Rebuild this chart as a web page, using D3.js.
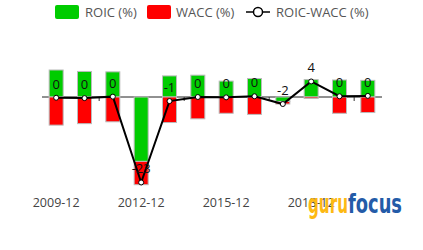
<!DOCTYPE html>
<html>
<head>
<meta charset="utf-8">
<script src="https://cdn.jsdelivr.net/npm/d3@7"></script>
<style>
  body { margin: 0; background: #fff; }
  svg { display: block; font-family: "Open Sans", sans-serif; }
</style>
</head>
<body>
<svg width="423" height="250"></svg>
<script>
"use strict";
var years = ['2009-12','2010-12','2011-12','2012-12','2013-12','2014-12','2015-12','2016-12','2017-12','2018-12','2019-12','2020-12'];
var roic = [7.3, 6.9, 6.8, -17.4, 5.7, 5.9, 4.3, 5.0, -1.2, 4.7, 4.6, 4.5];
var wacc = [7.6, 7.2, 6.7, 6.3, 6.9, 5.9, 4.4, 4.7, 0.7, 0.4, 4.4, 4.2];
var spread = [-0.2, -0.3, 0.1, -23.1, -1.1, 0.0, -0.1, 0.2, -1.9, 4.2, 0.2, 0.3];
var tickLabels = ['2009-12','2012-12','2015-12','2018-12'];

var svg = d3.select("svg");

var x = d3.scaleBand().domain(years).range([42, 382]);
var y = d3.scaleLinear().domain([-25, 10]).range([97 + 25 * 3.7, 97 - 10 * 3.7]);
var bw = 14;

// zero axis
svg.append('line')
  .attr('x1', x.range()[0]).attr('x2', x.range()[1])
  .attr('y1', y(0)).attr('y2', y(0))
  .attr('stroke', '#222').attr('stroke-width', 1);

// ticks between categories, every third
svg.append('g').selectAll('line')
  .data([2, 5, 8, 11])
  .enter().append('line')
  .attr('x1', d => x(years[d]) + 0.5).attr('x2', d => x(years[d]) + 0.5)
  .attr('y1', y(0)).attr('y2', y(0) + 4)
  .attr('stroke', '#333');

// ROIC bars
svg.append('g').selectAll('rect')
  .data(years)
  .enter().append('rect')
  .attr('x', d => x(d) + x.bandwidth() / 2 - bw / 2)
  .attr('width', bw)
  .attr('y', (d, i) => Math.min(y(0), y(roic[i])))
  .attr('height', (d, i) => Math.abs(y(roic[i]) - y(0)))
  .attr('fill', '#00cc00')
  .attr('stroke', '#bbb').attr('stroke-width', 1);

// WACC bars, stacked below
svg.append('g').selectAll('rect')
  .data(years)
  .enter().append('rect')
  .attr('x', d => x(d) + x.bandwidth() / 2 - bw / 2)
  .attr('width', bw)
  .attr('y', (d, i) => y(Math.min(0, roic[i])))
  .attr('height', (d, i) => y(-wacc[i]) - y(0))
  .attr('fill', '#ff0000')
  .attr('stroke', '#bbb').attr('stroke-width', 1);

// ROIC-WACC line
var line = d3.line()
  .x((d, i) => x(years[i]) + x.bandwidth() / 2)
  .y(d => y(d));
svg.append('path')
  .datum(spread)
  .attr('d', line)
  .attr('fill', 'none')
  .attr('stroke', '#000')
  .attr('stroke-width', 2);

svg.append('g').selectAll('circle')
  .data(spread)
  .enter().append('circle')
  .attr('cx', (d, i) => x(years[i]) + x.bandwidth() / 2)
  .attr('cy', d => y(d))
  .attr('r', 2.5)
  .attr('fill', '#fff')
  .attr('stroke', '#000')
  .attr('stroke-width', 1);

svg.append('g').selectAll('text')
  .data(spread)
  .enter().append('text')
  .attr('x', (d, i) => x(years[i]) + x.bandwidth() / 2)
  .attr('y', d => y(d) - 9)
  .attr('text-anchor', 'middle')
  .attr('font-size', 13)
  .attr('fill', '#111')
  .text(d => String(Math.round(d)));

// x labels
svg.append('g').selectAll('text')
  .data(tickLabels)
  .enter().append('text')
  .attr('x', d => x(d) + x.bandwidth() / 2)
  .attr('y', 207)
  .attr('text-anchor', 'middle')
  .attr('font-size', 12.5)
  .attr('fill', '#444')
  .text(d => d);

// legend
var legend = svg.append('g');
legend.append('rect').attr('x', 55).attr('y', 5).attr('width', 24).attr('height', 14).attr('rx', 2).attr('fill', '#00cc00');
legend.append('text').attr('x', 85).attr('y', 16.5).attr('font-size', 13).attr('fill', '#555').text('ROIC (%)');
legend.append('rect').attr('x', 147).attr('y', 5).attr('width', 24).attr('height', 14).attr('rx', 2).attr('fill', '#ff0000');
legend.append('text').attr('x', 176).attr('y', 16.5).attr('font-size', 13).attr('fill', '#555').text('WACC (%)');
legend.append('line').attr('x1', 246).attr('x2', 270).attr('y1', 12).attr('y2', 12).attr('stroke', '#000').attr('stroke-width', 1.5);
legend.append('circle').attr('cx', 258).attr('cy', 12).attr('r', 4.5).attr('fill', '#fff').attr('stroke', '#000').attr('stroke-width', 1.5);
legend.append('text').attr('x', 276).attr('y', 16.5).attr('font-size', 13).attr('fill', '#555').text('ROIC-WACC (%)');

// watermark
var logo = svg.append('g')
  .attr('font-family', '"DejaVu Sans Condensed", "Liberation Sans Narrow", sans-serif')
  .attr('font-size', 27).attr('font-weight', 'bold');
logo.append('text').attr('x', 308).attr('y', 213).attr('fill', '#fdb913')
  .attr('textLength', 40).attr('lengthAdjust', 'spacingAndGlyphs').text('guru');
logo.append('text').attr('x', 348).attr('y', 213).attr('fill', '#235ba8')
  .attr('textLength', 54).attr('lengthAdjust', 'spacingAndGlyphs').text('focus');
</script>
</body>
</html>
